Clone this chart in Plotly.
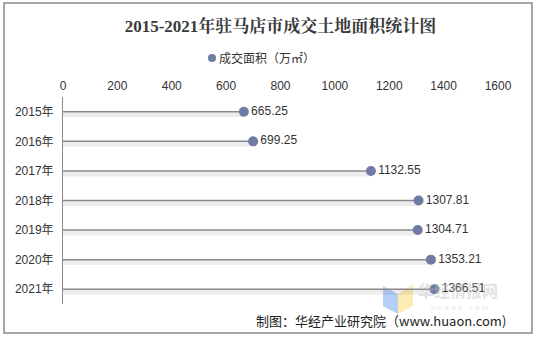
import plotly.graph_objects as go

categories = ["2015年", "2016年", "2017年", "2018年", "2019年", "2020年", "2021年"]
values = [665.25, 699.25, 1132.55, 1307.81, 1304.71, 1353.21, 1366.51]
x_ticks = [0, 200, 400, 600, 800, 1000, 1200, 1400, 1600]
series_name = "成交面积（万㎡）"

pos = list(range(len(categories)))
marker_color = "#6f7ba3"

line_x, line_y, sh_x, sh_y = [], [], [], []
for p, v in zip(pos, values):
    line_x += [0, v, None]
    line_y += [p, p, None]
    sh_x += [0, v, None]
    sh_y += [p + 0.1, p + 0.1, None]

fig = go.Figure()
fig.add_trace(go.Scatter(x=sh_x, y=sh_y, mode="lines",
                         line=dict(color="rgba(0,0,0,0.07)", width=5),
                         showlegend=False, hoverinfo="skip"))
fig.add_trace(go.Scatter(x=line_x, y=line_y, mode="lines",
                         line=dict(color="#8a8a8a", width=1.5),
                         showlegend=False, hoverinfo="skip"))
fig.add_trace(go.Scatter(x=values, y=pos, mode="markers+text", name=series_name,
                         marker=dict(color=marker_color, size=10),
                         text=[f"{v:.2f}" for v in values],
                         textposition="middle right", showlegend=False,
                         textfont=dict(family="Liberation Sans, Arial, sans-serif", size=12, color="#333333")))

font_sans = "Liberation Sans, Arial, Noto Sans CJK SC, sans-serif"

fig.update_layout(
    width=537, height=339,
    margin=dict(l=63, r=39, t=97, b=35),
    paper_bgcolor="white", plot_bgcolor="white",
    font=dict(family=font_sans, size=12, color="#333333"),
    title=dict(text="<b>2015-2021年驻马店市成交土地面积统计图</b>",
               x=0.5, xanchor="center", xref="paper", y=1 - 26 / 339, yanchor="middle",
               font=dict(family="Liberation Serif, Times New Roman, Noto Serif CJK SC, Noto Sans CJK SC, serif",
                         size=17, color="#3a3a3a")),
    xaxis=dict(side="top", range=[0, 1600], tickvals=x_ticks, showgrid=False,
               zeroline=False, showline=False, ticks="", ticklabelstandoff=4,
               tickfont=dict(family=font_sans, size=12, color="#333333")),
    yaxis=dict(range=[6.5, -0.5], tickvals=pos, ticktext=categories, showgrid=False,
               zeroline=False, showline=True, linecolor="#8a8a8a", linewidth=1,
               ticks="", ticklabelstandoff=6,
               tickfont=dict(family=font_sans, size=12, color="#333333")),
)

def px(xp, yp):
    return (xp - 63) / 435, (304 - yp) / 207

# legend: dot + text
fig.add_shape(type="circle", xref="paper", yref="paper",
              x0=px(208, 0)[0], x1=px(216, 0)[0], y0=px(0, 62)[1], y1=px(0, 54)[1],
              line=dict(width=0), fillcolor=marker_color)
fig.add_annotation(text=series_name,
                   xref="paper", yref="paper", x=px(217, 0)[0], y=px(0, 58)[1],
                   xanchor="left", yanchor="middle", showarrow=False,
                   font=dict(family=font_sans, size=12, color="#333333"))

# outer border
fig.add_shape(type="rect", xref="paper", yref="paper",
              x0=px(4, 0)[0], x1=px(532, 0)[0], y0=px(0, 333)[1], y1=px(0, 3)[1],
              line=dict(color="#8a8a8a", width=1.5), fillcolor="rgba(0,0,0,0)", layer="below")

# watermark logo (light)
bx = [px(383, 286), px(398, 294), px(398, 314), px(383, 306)]
yx = [px(398, 294), px(413, 284), px(413, 306), px(398, 314)]
for pts, col in [(bx, "rgba(120,170,240,0.55)"), (yx, "rgba(250,225,130,0.6)")]:
    path = "M " + " L ".join(f"{a},{b}" for a, b in pts) + " Z"
    fig.add_shape(type="path", xref="paper", yref="paper", path=path,
                  line=dict(width=0), fillcolor=col, layer="below")

fig.add_annotation(text="<b>华经情报网</b>", xref="paper", yref="paper",
                   x=px(458, 0)[0], y=px(0, 290)[1], xanchor="center", yanchor="middle",
                   showarrow=False, font=dict(family="Noto Sans CJK SC, sans-serif", size=16,
                                              color="rgba(190,190,190,0.45)"))
fig.add_annotation(text="h u a o n . c o m", xref="paper", yref="paper",
                   x=px(460, 0)[0], y=px(0, 307)[1], xanchor="center", yanchor="middle",
                   showarrow=False, font=dict(family="Liberation Sans, sans-serif", size=8,
                                              color="rgba(200,200,200,0.5)"))

# footer
fig.add_annotation(text="制图：华经产业研究院（www.huaon.com)", xref="paper", yref="paper",
                   x=px(508, 0)[0], y=px(0, 320)[1], xanchor="right", yanchor="middle",
                   showarrow=False, font=dict(family="Noto Sans CJK SC, sans-serif", size=13, color="#222222"))

fig.write_html("out.html")
